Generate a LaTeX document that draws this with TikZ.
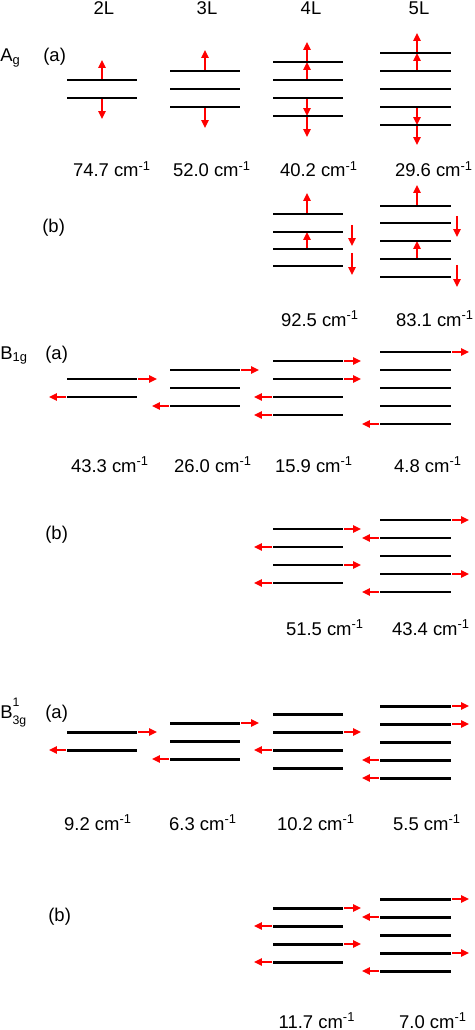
\documentclass[tikz,border=0pt]{standalone}
\usepackage{fontspec}
\setmainfont{Liberation Sans}
\usetikzlibrary{arrows.meta}
\newcommand{\icm}{cm\textsuperscript{-1}}
\begin{document}
\begin{tikzpicture}[x=0.02cm, y=-0.02cm, font=\fontsize{10.5}{12}\selectfont,
      lyr/.style={line width=1.7pt},
      vib/.style={red, line width=0.9pt, -{Triangle[length=4.5pt, width=4.2pt]}},
      txt/.style={anchor=base, inner sep=0pt},
      sym/.style={anchor=base west, inner sep=0pt}]
    \useasboundingbox (0,0) rectangle (474,1030);
    % column heads
    \node[txt] (h2) at (104,15) {2L};
    \node[txt] (h3) at (207,15) {3L};
    \node[txt] (h4) at (311,15) {4L};
    \node[txt] (h5) at (419,15) {5L};
    % A_g (a)
    \node[sym] (ag) at (0,62) {A\textsubscript{g}};
    \node[sym] (aga) at (43,62) {(a)};
    \draw[vib] (102,80) -- (102,60);
    \draw[vib] (102,98) -- (102,119);
    \draw[vib] (205,71) -- (205,50);
    \draw[vib] (205,107) -- (205,128);
    \foreach \a/\b in {62/42,80/62,98/116,116/137} \draw[vib] (307,\a) -- (307,\b);
    \foreach \a/\b in {53/33,71/53,107/125,125/145} \draw[vib] (417,\a) -- (417,\b);
    \foreach \y in {80,98} \draw[lyr] (67,\y) -- (137,\y);
    \foreach \y in {71,89,107} \draw[lyr] (170,\y) -- (240,\y);
    \foreach \y in {62,80,98,116} \draw[lyr] (273,\y) -- (343,\y);
    \foreach \y in {53,71,89,107,125} \draw[lyr] (380,\y) -- (451,\y);
    \node[txt] (fa2) at (112,177) {74.7 \icm};
    \node[txt] (fa3) at (212,177) {52.0 \icm};
    \node[txt] (fa4) at (319,177) {40.2 \icm};
    \node[txt] (fa5) at (434,177) {29.6 \icm};
    % A_g (b)
    \node[sym] (agb) at (42,233) {(b)};
    \draw[vib] (307,214) -- (307,193);
    \draw[vib] (307,249) -- (307,232);
    \draw[vib] (352,225) -- (352,246);
    \draw[vib] (352,253) -- (352,275);
    \draw[vib] (417,206) -- (417,185);
    \draw[vib] (417,259) -- (417,241);
    \draw[vib] (457,216) -- (457,237);
    \draw[vib] (457,265) -- (457,287);
    \foreach \y in {214,232,249,266} \draw[lyr] (273,\y) -- (343,\y);
    \foreach \y in {206,223,241,259,277} \draw[lyr] (380,\y) -- (451,\y);
    \node[txt] (fb4) at (320,326) {92.5 \icm};
    \node[txt] (fb5) at (435,326) {83.1 \icm};
    % B_1g (a)
    \node[sym] (bo) at (0,359) {B\textsubscript{1g}};
    \node[sym] (boa) at (45,359) {(a)};
    \foreach \y in {379,397} \draw[lyr] (67,\y) -- (137,\y);
    \draw[vib] (138,379) -- (157,379);
    \draw[vib] (66,397) -- (49,397);
    \foreach \y in {370,388,406} \draw[lyr] (170,\y) -- (240,\y);
    \draw[vib] (241,370) -- (259,370);
    \draw[vib] (169,406) -- (152,406);
    \foreach \y in {361,379,397,415} \draw[lyr] (273,\y) -- (343,\y);
    \foreach \y in {361,379} \draw[vib] (344,\y) -- (361,\y);
    \foreach \y in {397,415} \draw[vib] (272,\y) -- (254,\y);
    \foreach \y in {352,370,388,406,424} \draw[lyr] (380,\y) -- (451,\y);
    \draw[vib] (452,352) -- (469,352);
    \draw[vib] (379,424) -- (362,424);
    \node[txt] (fc2) at (110,472) {43.3 \icm};
    \node[txt] (fc3) at (213,472) {26.0 \icm};
    \node[txt] (fc4) at (314,472) {15.9 \icm};
    \node[txt] (fc5) at (428,472) {4.8 \icm};
    % B_1g (b)
    \node[sym] (bob) at (45,539) {(b)};
    \foreach \y in {529,547,565,583} \draw[lyr] (273,\y) -- (343,\y);
    \foreach \y in {529,565} \draw[vib] (344,\y) -- (361,\y);
    \foreach \y in {547,583} \draw[vib] (272,\y) -- (254,\y);
    \foreach \y in {520,538,556,574,592} \draw[lyr] (380,\y) -- (451,\y);
    \foreach \y in {520,574} \draw[vib] (452,\y) -- (469,\y);
    \foreach \y in {538,592} \draw[vib] (379,\y) -- (362,\y);
    \node[txt] (fd4) at (325,635) {51.5 \icm};
    \node[txt] (fd5) at (431,635) {43.4 \icm};
    % B^1_3g (a)
    \node[sym] (bt) at (0,718) {B\rlap{\raisebox{0.6em}{\scriptsize 1}}\raisebox{-0.35em}{\scriptsize 3g}};
    \node[sym] (bta) at (45,718) {(a)};
    \foreach \y in {732,750} \draw[lyr] (67,\y) -- (137,\y);
    \draw[vib] (138,732) -- (157,732);
    \draw[vib] (66,750) -- (49,750);
    \foreach \y in {723,741,759} \draw[lyr] (170,\y) -- (240,\y);
    \draw[vib] (241,723) -- (259,723);
    \draw[vib] (169,759) -- (152,759);
    \foreach \y in {714,732,750,768} \draw[lyr] (273,\y) -- (343,\y);
    \draw[vib] (344,732) -- (361,732);
    \draw[vib] (272,750) -- (254,750);
    \foreach \y in {706,724,742,760,778} \draw[lyr] (380,\y) -- (451,\y);
    \foreach \y in {706,724} \draw[vib] (452,\y) -- (469,\y);
    \foreach \y in {760,778} \draw[vib] (379,\y) -- (362,\y);
    \node[txt] (fe2) at (98,830) {9.2 \icm};
    \node[txt] (fe3) at (203,830) {6.3 \icm};
    \node[txt] (fe4) at (316,830) {10.2 \icm};
    \node[txt] (fe5) at (427,830) {5.5 \icm};
    % B^1_3g (b)
    \node[sym] (btb) at (48,921) {(b)};
    \foreach \y in {908,926,944,962} \draw[lyr] (273,\y) -- (343,\y);
    \foreach \y in {908,944} \draw[vib] (344,\y) -- (361,\y);
    \foreach \y in {926,962} \draw[vib] (272,\y) -- (254,\y);
    \foreach \y in {899,917,935,953,971} \draw[lyr] (380,\y) -- (451,\y);
    \foreach \y in {899,953} \draw[vib] (452,\y) -- (469,\y);
    \foreach \y in {917,971} \draw[vib] (379,\y) -- (362,\y);
    \node[txt] (ff4) at (317,1028) {11.7 \icm};
    \node[txt] (ff5) at (433,1028) {7.0 \icm};
  \end{tikzpicture}
\end{document}
